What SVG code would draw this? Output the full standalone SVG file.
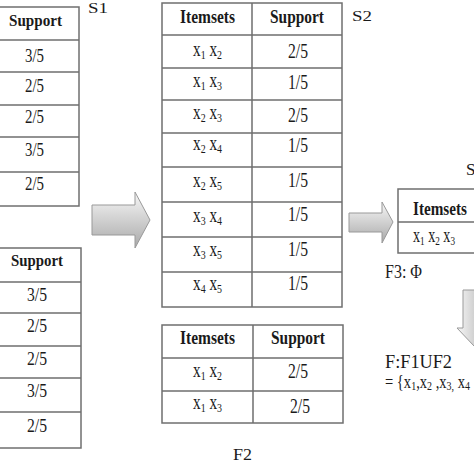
<svg xmlns="http://www.w3.org/2000/svg" width="474" height="474" viewBox="0 0 474 474">
<style>
.ln{fill:none;stroke:#6f6f6f;stroke-width:1.5}
.t{font-family:'Liberation Serif','DejaVu Serif',serif;fill:#1a1a1a}
.h{font-weight:bold}
.arrow{stroke:#999;stroke-width:1}
</style>
<defs>
<linearGradient id="gv" x1="0" y1="0" x2="0" y2="1">
<stop offset="0" stop-color="#f7f7f7"/>
<stop offset="1" stop-color="#a9a9a9"/>
</linearGradient>
<linearGradient id="gh" x1="0" y1="0" x2="1" y2="0">
<stop offset="0" stop-color="#f7f7f7"/>
<stop offset="1" stop-color="#a9a9a9"/>
</linearGradient>
</defs>
<rect width="474" height="474" fill="#fff"/>

<g id="table-s1" font-family="'Liberation Serif', serif">
<rect class="ln" x="-12" y="7" width="91" height="199"/>
<path class="ln" d="M-12,40H79M-12,72H79M-12,105H79M-12,137H79M-12,172H79"/>
<text class="t h" x="9" y="26" font-size="17" textLength="53" lengthAdjust="spacingAndGlyphs">Support</text>
<g class="t" font-size="19">
<text x="25" y="62" textLength="19" lengthAdjust="spacingAndGlyphs">3/5</text>
<text x="25" y="92" textLength="19" lengthAdjust="spacingAndGlyphs">2/5</text>
<text x="25" y="123" textLength="19" lengthAdjust="spacingAndGlyphs">2/5</text>
<text x="25" y="156" textLength="19" lengthAdjust="spacingAndGlyphs">3/5</text>
<text x="25" y="190" textLength="19" lengthAdjust="spacingAndGlyphs">2/5</text>
</g>
<text class="t" x="88" y="13" font-size="15" textLength="20" lengthAdjust="spacingAndGlyphs">S1</text>
</g>

<g id="table-f1" font-family="'Liberation Serif', serif">
<rect class="ln" x="-12" y="248" width="93" height="200"/>
<path class="ln" d="M-12,282H81M-12,313H81M-12,346H81M-12,378H81M-12,412H81"/>
<text class="t h" x="11" y="266" font-size="17" textLength="52" lengthAdjust="spacingAndGlyphs">Support</text>
<g class="t" font-size="19">
<text x="27" y="301" textLength="20" lengthAdjust="spacingAndGlyphs">3/5</text>
<text x="27" y="332" textLength="20" lengthAdjust="spacingAndGlyphs">2/5</text>
<text x="27" y="365" textLength="20" lengthAdjust="spacingAndGlyphs">2/5</text>
<text x="27" y="397" textLength="20" lengthAdjust="spacingAndGlyphs">3/5</text>
<text x="27" y="432" textLength="20" lengthAdjust="spacingAndGlyphs">2/5</text>
</g>
</g>

<g id="table-s2" font-family="'Liberation Serif', serif">
<rect class="ln" x="162" y="3" width="180" height="304"/>
<path class="ln" d="M252,3V307M162,35H342M162,68H342M162,100H342M162,133H342M162,167H342M162,202H342M162,237H342M162,272H342"/>
<text class="t h" x="180" y="23" font-size="19" textLength="55" lengthAdjust="spacingAndGlyphs">Itemsets</text>
<text class="t h" x="270" y="23" font-size="19" textLength="54" lengthAdjust="spacingAndGlyphs">Support</text>
<g class="t" font-size="20">
<text x="193" y="56" textLength="29" lengthAdjust="spacingAndGlyphs">x<tspan font-size="13" dy="3">1</tspan><tspan dy="-3"> x</tspan><tspan font-size="13" dy="3">2</tspan></text>
<text x="193" y="87" textLength="29" lengthAdjust="spacingAndGlyphs">x<tspan font-size="13" dy="3">1</tspan><tspan dy="-3"> x</tspan><tspan font-size="13" dy="3">3</tspan></text>
<text x="193" y="119" textLength="29" lengthAdjust="spacingAndGlyphs">x<tspan font-size="13" dy="3">2</tspan><tspan dy="-3"> x</tspan><tspan font-size="13" dy="3">3</tspan></text>
<text x="193" y="150" textLength="29" lengthAdjust="spacingAndGlyphs">x<tspan font-size="13" dy="3">2</tspan><tspan dy="-3"> x</tspan><tspan font-size="13" dy="3">4</tspan></text>
<text x="193" y="187" textLength="29" lengthAdjust="spacingAndGlyphs">x<tspan font-size="13" dy="3">2</tspan><tspan dy="-3"> x</tspan><tspan font-size="13" dy="3">5</tspan></text>
<text x="193" y="222" textLength="29" lengthAdjust="spacingAndGlyphs">x<tspan font-size="13" dy="3">3</tspan><tspan dy="-3"> x</tspan><tspan font-size="13" dy="3">4</tspan></text>
<text x="193" y="256" textLength="29" lengthAdjust="spacingAndGlyphs">x<tspan font-size="13" dy="3">3</tspan><tspan dy="-3"> x</tspan><tspan font-size="13" dy="3">5</tspan></text>
<text x="193" y="290" textLength="29" lengthAdjust="spacingAndGlyphs">x<tspan font-size="13" dy="3">4</tspan><tspan dy="-3"> x</tspan><tspan font-size="13" dy="3">5</tspan></text>
</g>
<g class="t" font-size="21">
<text x="288" y="58" textLength="20" lengthAdjust="spacingAndGlyphs">2/5</text>
<text x="288" y="89" textLength="20" lengthAdjust="spacingAndGlyphs">1/5</text>
<text x="288" y="122" textLength="20" lengthAdjust="spacingAndGlyphs">2/5</text>
<text x="288" y="152" textLength="20" lengthAdjust="spacingAndGlyphs">1/5</text>
<text x="288" y="187" textLength="20" lengthAdjust="spacingAndGlyphs">1/5</text>
<text x="288" y="221" textLength="20" lengthAdjust="spacingAndGlyphs">1/5</text>
<text x="288" y="256" textLength="20" lengthAdjust="spacingAndGlyphs">1/5</text>
<text x="288" y="290" textLength="20" lengthAdjust="spacingAndGlyphs">1/5</text>
</g>
<text class="t" x="352" y="21" font-size="14" textLength="20" lengthAdjust="spacingAndGlyphs">S2</text>
</g>

<g id="table-f2" font-family="'Liberation Serif', serif">
<rect class="ln" x="162" y="325" width="181" height="98"/>
<path class="ln" d="M253,325V423M162,358H343M162,391H343"/>
<text class="t h" x="180" y="344" font-size="19" textLength="55" lengthAdjust="spacingAndGlyphs">Itemsets</text>
<text class="t h" x="271" y="344" font-size="19" textLength="54" lengthAdjust="spacingAndGlyphs">Support</text>
<g class="t" font-size="20">
<text x="193" y="377" textLength="29" lengthAdjust="spacingAndGlyphs">x<tspan font-size="13" dy="3">1</tspan><tspan dy="-3"> x</tspan><tspan font-size="13" dy="3">2</tspan></text>
<text x="193" y="409" textLength="29" lengthAdjust="spacingAndGlyphs">x<tspan font-size="13" dy="3">1</tspan><tspan dy="-3"> x</tspan><tspan font-size="13" dy="3">3</tspan></text>
</g>
<g class="t" font-size="21">
<text x="288" y="378" textLength="20" lengthAdjust="spacingAndGlyphs">2/5</text>
<text x="290" y="413" textLength="20" lengthAdjust="spacingAndGlyphs">2/5</text>
</g>
<text class="t" x="233" y="460" font-size="17" textLength="19" lengthAdjust="spacingAndGlyphs">F2</text>
</g>

<g id="table-s3" font-family="'Liberation Serif', serif">
<rect class="ln" x="398" y="189" width="100" height="64"/>
<path class="ln" d="M398,222H498M476,189V253"/>
<text class="t h" x="413" y="215" font-size="19" textLength="54" lengthAdjust="spacingAndGlyphs">Itemsets</text>
<text class="t" x="413" y="242" font-size="20" textLength="42" lengthAdjust="spacingAndGlyphs">x<tspan font-size="13" dy="3">1</tspan><tspan dy="-3"> x</tspan><tspan font-size="13" dy="3">2</tspan><tspan dy="-3"> x</tspan><tspan font-size="13" dy="3">3</tspan></text>
<text class="t" x="466" y="175" font-size="17">S</text>
<text class="t" x="385" y="278" font-size="18" textLength="37" lengthAdjust="spacingAndGlyphs">F3: Φ</text>
</g>

<g id="result" font-family="'Liberation Serif', serif">
<text class="t" x="385" y="368" font-size="18" textLength="67" lengthAdjust="spacingAndGlyphs">F:F1UF2</text>
<text class="t" x="385" y="388" font-size="19" textLength="85" lengthAdjust="spacingAndGlyphs">= {x<tspan font-size="13" dy="2">1</tspan><tspan dy="-2">,x</tspan><tspan font-size="13" dy="2">2</tspan><tspan dy="-2"> ,x</tspan><tspan font-size="13" dy="2">3,</tspan><tspan dy="-2"> x</tspan><tspan font-size="13" dy="2">4</tspan></text>
</g>

<g id="connectors">
<path class="arrow" fill="url(#gv)" d="M92,205H135V192L150,220L135,248V235H92Z"/>
<path class="arrow" fill="url(#gv)" d="M349,213H382V202L393,222L382,243V232H349Z"/>
<path class="arrow" fill="url(#gh)" d="M463,290H486V328H492L474,346L457,328H463Z"/>
</g>
</svg>
